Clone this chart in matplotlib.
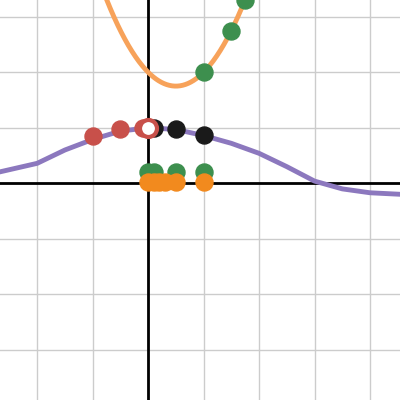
import numpy as np
import matplotlib
matplotlib.use("Agg")
import matplotlib.pyplot as plt

# curve samples
purple_x = [-2.7, -2, -1.5, -1, -0.5, 0, 0.5, 1, 1.5, 2, 2.5, 3, 3.5, 4, 4.6]
purple_y = [0.2, 0.36, 0.6, 0.79, 0.94, 1.0, 0.97, 0.86, 0.72, 0.54, 0.3, 0.04, -0.1, -0.17, -0.2]
orange_coef = [1, -1, 2]  # y = x^2 - x + 2

green_x = [1, 1.5, 1.75, 0, 0.1, 0.5, 1]
green_y = [2, 2.75, 3.3, 0.2, 0.2, 0.2, 0.2]
orange_x = [0, 0.1, 0.2, 0.3, 0.5, 1]
orange_y = [0.02, 0.02, 0.02, 0.02, 0.02, 0.02]
red_x = [-1, -0.5, -0.1]
red_y = [0.85, 0.97, 1.0]
black_x = [0.1, 0.5, 1]
black_y = [1.0, 0.98, 0.87]

fig = plt.figure(figsize=(4, 4), dpi=100)
ax = fig.add_axes([0, 0, 1, 1])
ax.set_xlim(-2.67, 4.54)
ax.set_ylim(-3.9, 3.3)
ax.axis('off')
for v in np.arange(-2, 5, 1):
    ax.axvline(v, color='#cccccc', lw=1, zorder=0)
for v in np.arange(-3, 4, 1):
    ax.axhline(v, color='#cccccc', lw=1, zorder=0)
ax.axhline(0, color='black', lw=2, zorder=1)
ax.axvline(0, color='black', lw=2, zorder=1)

ax.plot(purple_x, purple_y, color='#8c78be', lw=3.5, zorder=2, solid_capstyle='round')
xs = np.linspace(-1, 2.2, 200)
ax.plot(xs, np.polyval(orange_coef, xs), color='#f7a25a', lw=3.5, zorder=2)

ms = 150
ax.scatter(green_x, green_y, s=ms, color='#3d8f4e', zorder=3)
ax.scatter(orange_x, orange_y, s=ms, color='#f28a1e', zorder=4)
ax.scatter(red_x, red_y, s=ms, color='#c8504a', zorder=3)
ax.scatter(black_x, black_y, s=ms, color='#1a1a1a', zorder=3)
ax.scatter([0], [1.0], s=ms, color='white', edgecolors='#c8504a', linewidths=3, zorder=5)

fig.savefig('out.png', dpi=100)
